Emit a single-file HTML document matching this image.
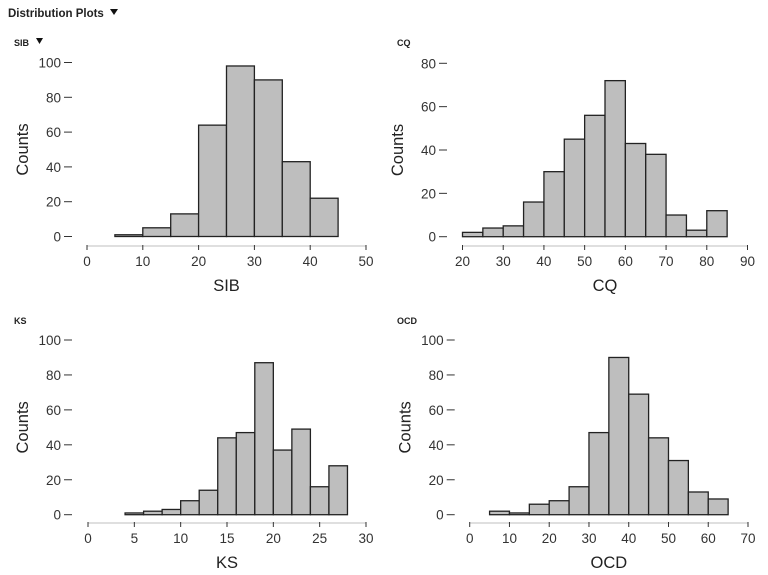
<!DOCTYPE html>
<html><head><meta charset="utf-8"><style>
html,body{margin:0;padding:0;background:#fff;}
svg{display:block;font-family:"Liberation Sans",Arial,sans-serif;}
</style></head><body>
<svg id="s" width="768" height="575" xmlns="http://www.w3.org/2000/svg">
<text x="8" y="17" font-size="11.5" font-weight="bold" fill="#222">Distribution Plots</text>
<path d="M110,9 L118,9 L114,15 Z" fill="#111"/>
<text x="14" y="46" font-size="9" font-weight="bold" fill="#222">SIB</text>
<path d="M36,38 L43,38 L39.5,44 Z" fill="#111"/>
<text x="397" y="46" font-size="9" font-weight="bold" fill="#222">CQ</text>
<text x="14" y="324" font-size="9" font-weight="bold" fill="#222">KS</text>
<text x="397" y="324" font-size="9" font-weight="bold" fill="#222">OCD</text>
</svg>
<script>
var s=document.getElementById('s'),NS='http://www.w3.org/2000/svg';
function el(t,a,txt){var e=document.createElementNS(NS,t);for(var k in a)e.setAttribute(k,a[k]);if(txt!=null)e.textContent=txt;s.appendChild(e);}
function panel(o){
 var ys=function(v){return o.y0+(o.yT-o.y0)*v/o.yMax;};
 var xs=function(v){return o.x0+(o.x1-o.x0)*(v-o.xMin)/(o.xMax-o.xMin);};
 for(var i=0;i<o.d.length;i++){var a=o.bs+i*o.bw;
  el('rect',{x:xs(a),y:ys(o.d[i]),width:xs(a+o.bw)-xs(a),height:o.y0-ys(o.d[i]),fill:'#bebebe',stroke:'#222','stroke-width':1.3});}
 for(var v=0;v<=o.yMax;v+=20){var y=ys(v);
  el('line',{x1:o.yx-8,x2:o.yx,y1:y,y2:y,stroke:'#333','stroke-width':1});
  el('text',{x:o.yx-11,y:y+5,'font-size':13.5,'text-anchor':'end',fill:'#333'},v);}
 el('line',{x1:o.x0,x2:o.x1,y1:o.ax,y2:o.ax,stroke:'#ccc','stroke-width':1.2});
 for(var v=o.xMin;v<=o.xMax;v+=o.xStep){var x=xs(v);
  el('line',{x1:x,x2:x,y1:o.ax-1,y2:o.ax+4,stroke:'#333','stroke-width':1});
  el('text',{x:x,y:o.ax+20,'font-size':13.5,'text-anchor':'middle',fill:'#333'},v);}
 el('text',{x:(o.x0+o.x1)/2,y:o.ax+45,'font-size':16.5,'text-anchor':'middle',fill:'#222'},o.name);
 var cy=(o.y0+o.yT)/2;
 el('text',{x:o.yx-44,y:cy,'font-size':16.5,'text-anchor':'middle',fill:'#222',transform:'rotate(-90 '+(o.yx-44)+' '+cy+')'},'Counts');
}
panel({name:'SIB',d:[1,5,13,64,98,90,43,22],bs:5,bw:5,xMin:0,xMax:50,xStep:10,x0:87,x1:366,yMax:100,y0:236.5,yT:62.5,yx:72,ax:246});
panel({name:'CQ',d:[2,4,5,16,30,45,56,72,43,38,10,3,12],bs:20,bw:5,xMin:20,xMax:90,xStep:10,x0:462.5,x1:747.5,yMax:80,y0:236.7,yT:63.3,yx:447,ax:246});
panel({name:'KS',d:[1,2,3,8,14,44,47,87,37,49,16,28],bs:4,bw:2,xMin:0,xMax:30,xStep:5,x0:88,x1:366,yMax:100,y0:514.7,yT:340,yx:72,ax:523});
panel({name:'OCD',d:[2,1,6,8,16,47,90,69,44,31,13,9],bs:5,bw:5,xMin:0,xMax:70,xStep:10,x0:469.7,x1:748,yMax:100,y0:514.7,yT:340,yx:454.7,ax:523});
</script>
</body></html>
